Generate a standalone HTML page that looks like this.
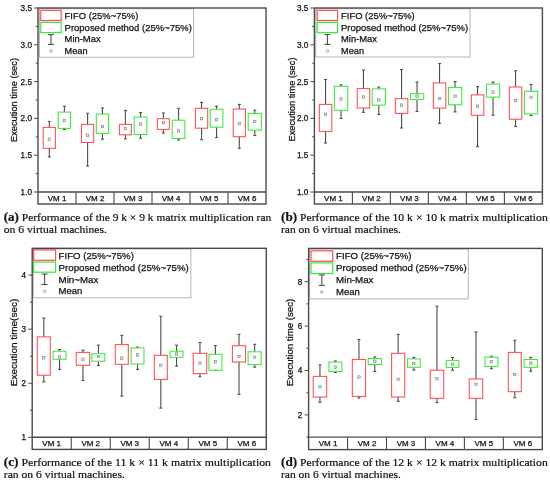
<!DOCTYPE html>
<html><head><meta charset="utf-8"><title>Execution time box plots</title>
<style>
html,body{margin:0;padding:0;background:#fff;}
body{width:550px;height:482px;overflow:hidden;}
svg{display:block;}
text{fill:#111;}
.vm,.tk,.yl,.lg{stroke:#111;stroke-width:0.25px;}
.vm{font-family:"Liberation Sans",Arial,sans-serif;font-size:8px;}
.tk{font-family:"Liberation Sans",Arial,sans-serif;font-size:8.2px;}
.yl{font-family:"Liberation Sans",Arial,sans-serif;font-size:9.2px;}
.lg{font-family:"Liberation Sans",Arial,sans-serif;font-size:9.6px;}
.cap{font-family:"Liberation Serif","Times New Roman",serif;font-size:11.2px;fill:#111;stroke:#111;stroke-width:0.2px;}
.cb{font-weight:bold;font-size:12.6px;}
</style></head>
<body>
<svg width="550" height="482" viewBox="0 0 550 482">
<rect width="550" height="482" fill="#fff"/>
<rect x="39.4" y="8.7" width="154.2" height="48.6" fill="none" stroke="#b4b4b4" stroke-width="1"/>
<rect x="38" y="8" width="228" height="196" fill="none" stroke="#4a4a4a" stroke-width="1.4"/>
<line x1="38" y1="192" x2="266" y2="192" stroke="#4a4a4a" stroke-width="1.4"/>
<line x1="76" y1="192" x2="76" y2="204" stroke="#4a4a4a" stroke-width="1.1"/>
<line x1="114" y1="192" x2="114" y2="204" stroke="#4a4a4a" stroke-width="1.1"/>
<line x1="152" y1="192" x2="152" y2="204" stroke="#4a4a4a" stroke-width="1.1"/>
<line x1="190" y1="192" x2="190" y2="204" stroke="#4a4a4a" stroke-width="1.1"/>
<line x1="228" y1="192" x2="228" y2="204" stroke="#4a4a4a" stroke-width="1.1"/>
<text x="57" y="201.2" class="vm" text-anchor="middle">VM 1</text>
<text x="95" y="201.2" class="vm" text-anchor="middle">VM 2</text>
<text x="133" y="201.2" class="vm" text-anchor="middle">VM 3</text>
<text x="171" y="201.2" class="vm" text-anchor="middle">VM 4</text>
<text x="209" y="201.2" class="vm" text-anchor="middle">VM 5</text>
<text x="247" y="201.2" class="vm" text-anchor="middle">VM 6</text>
<line x1="34" y1="192" x2="38" y2="192" stroke="#4a4a4a" stroke-width="1"/>
<text x="32" y="194.9" class="tk" text-anchor="end">1.0</text>
<line x1="34" y1="155.2" x2="38" y2="155.2" stroke="#4a4a4a" stroke-width="1"/>
<text x="32" y="158.1" class="tk" text-anchor="end">1.5</text>
<line x1="34" y1="118.4" x2="38" y2="118.4" stroke="#4a4a4a" stroke-width="1"/>
<text x="32" y="121.3" class="tk" text-anchor="end">2.0</text>
<line x1="34" y1="81.6" x2="38" y2="81.6" stroke="#4a4a4a" stroke-width="1"/>
<text x="32" y="84.5" class="tk" text-anchor="end">2.5</text>
<line x1="34" y1="44.8" x2="38" y2="44.8" stroke="#4a4a4a" stroke-width="1"/>
<text x="32" y="47.7" class="tk" text-anchor="end">3.0</text>
<line x1="34" y1="8" x2="38" y2="8" stroke="#4a4a4a" stroke-width="1"/>
<text x="32" y="10.9" class="tk" text-anchor="end">3.5</text>
<line x1="35.8" y1="173.6" x2="38" y2="173.6" stroke="#4a4a4a" stroke-width="1"/>
<line x1="35.8" y1="136.8" x2="38" y2="136.8" stroke="#4a4a4a" stroke-width="1"/>
<line x1="35.8" y1="100" x2="38" y2="100" stroke="#4a4a4a" stroke-width="1"/>
<line x1="35.8" y1="63.2" x2="38" y2="63.2" stroke="#4a4a4a" stroke-width="1"/>
<line x1="35.8" y1="26.4" x2="38" y2="26.4" stroke="#4a4a4a" stroke-width="1"/>
<text transform="translate(17.3,100) rotate(-90)" class="yl" text-anchor="middle" textLength="84" lengthAdjust="spacingAndGlyphs">Execution time (sec)</text>
<rect x="40.8" y="10.3" width="20.4" height="10.2" fill="none" stroke="#ff4d4d" stroke-width="1.2"/>
<rect x="40.8" y="22.4" width="20.4" height="10.2" fill="none" stroke="#36ec36" stroke-width="1.2"/>
<line x1="51" y1="34.6" x2="51" y2="44.4" stroke="#4d4d4d" stroke-width="1.1"/>
<line x1="48" y1="34.6" x2="54" y2="34.6" stroke="#4d4d4d" stroke-width="1.1"/>
<line x1="48" y1="44.4" x2="54" y2="44.4" stroke="#4d4d4d" stroke-width="1.1"/>
<circle cx="51" cy="50.9" r="1.3" fill="none" stroke="#8a8a8a" stroke-width="0.7"/>
<text x="64.6" y="18.9" class="lg" textLength="73.7" lengthAdjust="spacingAndGlyphs">FIFO (25%~75%)</text>
<text x="64.6" y="30.6" class="lg" textLength="127.2" lengthAdjust="spacingAndGlyphs">Proposed method (25%~75%)</text>
<text x="64.6" y="42.3" class="lg" textLength="36" lengthAdjust="spacingAndGlyphs">Min-Max</text>
<text x="64.6" y="53.9" class="lg" textLength="23" lengthAdjust="spacingAndGlyphs">Mean</text>
<line x1="49.3" y1="121.4" x2="49.3" y2="127.4" stroke="#4d4d4d" stroke-width="1.1"/>
<line x1="49.3" y1="148.3" x2="49.3" y2="157" stroke="#4d4d4d" stroke-width="1.1"/>
<line x1="47.8" y1="121.4" x2="50.8" y2="121.4" stroke="#4d4d4d" stroke-width="1.1"/>
<line x1="47.8" y1="157" x2="50.8" y2="157" stroke="#4d4d4d" stroke-width="1.1"/>
<rect x="43.2" y="127.4" width="12.2" height="20.9" fill="none" stroke="#ff4d4d" stroke-width="1.05"/>
<rect x="48.1" y="138" width="2.4" height="2.4" fill="#e6e6e6" stroke="#7a7a7a" stroke-width="0.6"/>
<line x1="64.4" y1="106.2" x2="64.4" y2="112.1" stroke="#4d4d4d" stroke-width="1.1"/>
<line x1="64.4" y1="128.4" x2="64.4" y2="129.6" stroke="#4d4d4d" stroke-width="1.1"/>
<line x1="62.9" y1="106.2" x2="65.9" y2="106.2" stroke="#4d4d4d" stroke-width="1.1"/>
<line x1="62.9" y1="129.6" x2="65.9" y2="129.6" stroke="#4d4d4d" stroke-width="1.1"/>
<rect x="58.2" y="112.1" width="12.4" height="16.3" fill="none" stroke="#36ec36" stroke-width="1.05"/>
<rect x="63.2" y="119.3" width="2.4" height="2.4" fill="#e6e6e6" stroke="#7a7a7a" stroke-width="0.6"/>
<line x1="87.6" y1="113.3" x2="87.6" y2="124.4" stroke="#4d4d4d" stroke-width="1.1"/>
<line x1="87.6" y1="142.5" x2="87.6" y2="166" stroke="#4d4d4d" stroke-width="1.1"/>
<line x1="86.1" y1="113.3" x2="89.1" y2="113.3" stroke="#4d4d4d" stroke-width="1.1"/>
<line x1="86.1" y1="166" x2="89.1" y2="166" stroke="#4d4d4d" stroke-width="1.1"/>
<rect x="81.5" y="124.4" width="12.2" height="18.1" fill="none" stroke="#ff4d4d" stroke-width="1.05"/>
<rect x="86.4" y="133.9" width="2.4" height="2.4" fill="#e6e6e6" stroke="#7a7a7a" stroke-width="0.6"/>
<line x1="102.45" y1="108" x2="102.45" y2="114.1" stroke="#4d4d4d" stroke-width="1.1"/>
<line x1="102.45" y1="133.4" x2="102.45" y2="139.2" stroke="#4d4d4d" stroke-width="1.1"/>
<line x1="100.95" y1="108" x2="103.95" y2="108" stroke="#4d4d4d" stroke-width="1.1"/>
<line x1="100.95" y1="139.2" x2="103.95" y2="139.2" stroke="#4d4d4d" stroke-width="1.1"/>
<rect x="96.3" y="114.1" width="12.3" height="19.3" fill="none" stroke="#36ec36" stroke-width="1.05"/>
<rect x="101.25" y="125.3" width="2.4" height="2.4" fill="#e6e6e6" stroke="#7a7a7a" stroke-width="0.6"/>
<line x1="125.4" y1="110.4" x2="125.4" y2="124.4" stroke="#4d4d4d" stroke-width="1.1"/>
<line x1="125.4" y1="134.8" x2="125.4" y2="138.9" stroke="#4d4d4d" stroke-width="1.1"/>
<line x1="123.9" y1="110.4" x2="126.9" y2="110.4" stroke="#4d4d4d" stroke-width="1.1"/>
<line x1="123.9" y1="138.9" x2="126.9" y2="138.9" stroke="#4d4d4d" stroke-width="1.1"/>
<rect x="119.4" y="124.4" width="12" height="10.4" fill="none" stroke="#ff4d4d" stroke-width="1.05"/>
<rect x="124.2" y="127.4" width="2.4" height="2.4" fill="#e6e6e6" stroke="#7a7a7a" stroke-width="0.6"/>
<line x1="140.55" y1="112.5" x2="140.55" y2="117.1" stroke="#4d4d4d" stroke-width="1.1"/>
<line x1="140.55" y1="134.5" x2="140.55" y2="138.2" stroke="#4d4d4d" stroke-width="1.1"/>
<line x1="139.05" y1="112.5" x2="142.05" y2="112.5" stroke="#4d4d4d" stroke-width="1.1"/>
<line x1="139.05" y1="138.2" x2="142.05" y2="138.2" stroke="#4d4d4d" stroke-width="1.1"/>
<rect x="134.2" y="117.1" width="12.7" height="17.4" fill="none" stroke="#36ec36" stroke-width="1.05"/>
<rect x="139.35" y="122.9" width="2.4" height="2.4" fill="#e6e6e6" stroke="#7a7a7a" stroke-width="0.6"/>
<line x1="163.4" y1="113" x2="163.4" y2="118.7" stroke="#4d4d4d" stroke-width="1.1"/>
<line x1="163.4" y1="129.4" x2="163.4" y2="133" stroke="#4d4d4d" stroke-width="1.1"/>
<line x1="161.9" y1="113" x2="164.9" y2="113" stroke="#4d4d4d" stroke-width="1.1"/>
<line x1="161.9" y1="133" x2="164.9" y2="133" stroke="#4d4d4d" stroke-width="1.1"/>
<rect x="157.4" y="118.7" width="12" height="10.7" fill="none" stroke="#ff4d4d" stroke-width="1.05"/>
<rect x="162.2" y="121.4" width="2.4" height="2.4" fill="#e6e6e6" stroke="#7a7a7a" stroke-width="0.6"/>
<line x1="178.55" y1="108.3" x2="178.55" y2="120.2" stroke="#4d4d4d" stroke-width="1.1"/>
<line x1="178.55" y1="138.4" x2="178.55" y2="140" stroke="#4d4d4d" stroke-width="1.1"/>
<line x1="177.05" y1="108.3" x2="180.05" y2="108.3" stroke="#4d4d4d" stroke-width="1.1"/>
<line x1="177.05" y1="140" x2="180.05" y2="140" stroke="#4d4d4d" stroke-width="1.1"/>
<rect x="172.2" y="120.2" width="12.7" height="18.2" fill="none" stroke="#36ec36" stroke-width="1.05"/>
<rect x="177.35" y="129.7" width="2.4" height="2.4" fill="#e6e6e6" stroke="#7a7a7a" stroke-width="0.6"/>
<line x1="201.55" y1="102.3" x2="201.55" y2="108.3" stroke="#4d4d4d" stroke-width="1.1"/>
<line x1="201.55" y1="128.2" x2="201.55" y2="139.7" stroke="#4d4d4d" stroke-width="1.1"/>
<line x1="200.05" y1="102.3" x2="203.05" y2="102.3" stroke="#4d4d4d" stroke-width="1.1"/>
<line x1="200.05" y1="139.7" x2="203.05" y2="139.7" stroke="#4d4d4d" stroke-width="1.1"/>
<rect x="195.4" y="108.3" width="12.3" height="19.9" fill="none" stroke="#ff4d4d" stroke-width="1.05"/>
<rect x="200.35" y="117.5" width="2.4" height="2.4" fill="#e6e6e6" stroke="#7a7a7a" stroke-width="0.6"/>
<line x1="216.55" y1="106.2" x2="216.55" y2="109.3" stroke="#4d4d4d" stroke-width="1.1"/>
<line x1="216.55" y1="127.2" x2="216.55" y2="137.6" stroke="#4d4d4d" stroke-width="1.1"/>
<line x1="215.05" y1="106.2" x2="218.05" y2="106.2" stroke="#4d4d4d" stroke-width="1.1"/>
<line x1="215.05" y1="137.6" x2="218.05" y2="137.6" stroke="#4d4d4d" stroke-width="1.1"/>
<rect x="210.2" y="109.3" width="12.7" height="17.9" fill="none" stroke="#36ec36" stroke-width="1.05"/>
<rect x="215.35" y="118.5" width="2.4" height="2.4" fill="#e6e6e6" stroke="#7a7a7a" stroke-width="0.6"/>
<line x1="239.3" y1="104.4" x2="239.3" y2="109" stroke="#4d4d4d" stroke-width="1.1"/>
<line x1="239.3" y1="136.7" x2="239.3" y2="148.3" stroke="#4d4d4d" stroke-width="1.1"/>
<line x1="237.8" y1="104.4" x2="240.8" y2="104.4" stroke="#4d4d4d" stroke-width="1.1"/>
<line x1="237.8" y1="148.3" x2="240.8" y2="148.3" stroke="#4d4d4d" stroke-width="1.1"/>
<rect x="233.2" y="109" width="12.2" height="27.7" fill="none" stroke="#ff4d4d" stroke-width="1.05"/>
<rect x="238.1" y="122.5" width="2.4" height="2.4" fill="#e6e6e6" stroke="#7a7a7a" stroke-width="0.6"/>
<line x1="254.8" y1="110.2" x2="254.8" y2="113.4" stroke="#4d4d4d" stroke-width="1.1"/>
<line x1="254.8" y1="130.1" x2="254.8" y2="135.5" stroke="#4d4d4d" stroke-width="1.1"/>
<line x1="253.3" y1="110.2" x2="256.3" y2="110.2" stroke="#4d4d4d" stroke-width="1.1"/>
<line x1="253.3" y1="135.5" x2="256.3" y2="135.5" stroke="#4d4d4d" stroke-width="1.1"/>
<rect x="248.2" y="113.4" width="13.2" height="16.7" fill="none" stroke="#36ec36" stroke-width="1.05"/>
<rect x="253.6" y="120.2" width="2.4" height="2.4" fill="#e6e6e6" stroke="#7a7a7a" stroke-width="0.6"/>
<rect x="315.8" y="8.7" width="154.2" height="48.3" fill="none" stroke="#b4b4b4" stroke-width="1"/>
<rect x="314.4" y="8" width="228" height="196" fill="none" stroke="#4a4a4a" stroke-width="1.4"/>
<line x1="314.4" y1="192" x2="542.4" y2="192" stroke="#4a4a4a" stroke-width="1.4"/>
<line x1="352.4" y1="192" x2="352.4" y2="204" stroke="#4a4a4a" stroke-width="1.1"/>
<line x1="390.4" y1="192" x2="390.4" y2="204" stroke="#4a4a4a" stroke-width="1.1"/>
<line x1="428.4" y1="192" x2="428.4" y2="204" stroke="#4a4a4a" stroke-width="1.1"/>
<line x1="466.4" y1="192" x2="466.4" y2="204" stroke="#4a4a4a" stroke-width="1.1"/>
<line x1="504.4" y1="192" x2="504.4" y2="204" stroke="#4a4a4a" stroke-width="1.1"/>
<text x="333.4" y="201.2" class="vm" text-anchor="middle">VM 1</text>
<text x="371.4" y="201.2" class="vm" text-anchor="middle">VM 2</text>
<text x="409.4" y="201.2" class="vm" text-anchor="middle">VM 3</text>
<text x="447.4" y="201.2" class="vm" text-anchor="middle">VM 4</text>
<text x="485.4" y="201.2" class="vm" text-anchor="middle">VM 5</text>
<text x="523.4" y="201.2" class="vm" text-anchor="middle">VM 6</text>
<line x1="310.4" y1="192" x2="314.4" y2="192" stroke="#4a4a4a" stroke-width="1"/>
<text x="308.4" y="194.9" class="tk" text-anchor="end">1.0</text>
<line x1="310.4" y1="155.2" x2="314.4" y2="155.2" stroke="#4a4a4a" stroke-width="1"/>
<text x="308.4" y="158.1" class="tk" text-anchor="end">1.5</text>
<line x1="310.4" y1="118.4" x2="314.4" y2="118.4" stroke="#4a4a4a" stroke-width="1"/>
<text x="308.4" y="121.3" class="tk" text-anchor="end">2.0</text>
<line x1="310.4" y1="81.6" x2="314.4" y2="81.6" stroke="#4a4a4a" stroke-width="1"/>
<text x="308.4" y="84.5" class="tk" text-anchor="end">2.5</text>
<line x1="310.4" y1="44.8" x2="314.4" y2="44.8" stroke="#4a4a4a" stroke-width="1"/>
<text x="308.4" y="47.7" class="tk" text-anchor="end">3.0</text>
<line x1="310.4" y1="8" x2="314.4" y2="8" stroke="#4a4a4a" stroke-width="1"/>
<text x="308.4" y="10.9" class="tk" text-anchor="end">3.5</text>
<line x1="312.2" y1="173.6" x2="314.4" y2="173.6" stroke="#4a4a4a" stroke-width="1"/>
<line x1="312.2" y1="136.8" x2="314.4" y2="136.8" stroke="#4a4a4a" stroke-width="1"/>
<line x1="312.2" y1="100" x2="314.4" y2="100" stroke="#4a4a4a" stroke-width="1"/>
<line x1="312.2" y1="63.2" x2="314.4" y2="63.2" stroke="#4a4a4a" stroke-width="1"/>
<line x1="312.2" y1="26.4" x2="314.4" y2="26.4" stroke="#4a4a4a" stroke-width="1"/>
<text transform="translate(294.7,99.5) rotate(-90)" class="yl" text-anchor="middle" textLength="84" lengthAdjust="spacingAndGlyphs">Execution time (sec)</text>
<rect x="317.2" y="10.3" width="20.4" height="10.2" fill="none" stroke="#ff4d4d" stroke-width="1.2"/>
<rect x="317.2" y="22.4" width="20.4" height="10.2" fill="none" stroke="#36ec36" stroke-width="1.2"/>
<line x1="327.4" y1="34.6" x2="327.4" y2="44.4" stroke="#4d4d4d" stroke-width="1.1"/>
<line x1="324.4" y1="34.6" x2="330.4" y2="34.6" stroke="#4d4d4d" stroke-width="1.1"/>
<line x1="324.4" y1="44.4" x2="330.4" y2="44.4" stroke="#4d4d4d" stroke-width="1.1"/>
<circle cx="327.4" cy="50.9" r="1.3" fill="none" stroke="#8a8a8a" stroke-width="0.7"/>
<text x="341" y="18.9" class="lg" textLength="73.7" lengthAdjust="spacingAndGlyphs">FIFO (25%~75%)</text>
<text x="341" y="30.6" class="lg" textLength="127.2" lengthAdjust="spacingAndGlyphs">Proposed method (25%~75%)</text>
<text x="341" y="42.3" class="lg" textLength="36" lengthAdjust="spacingAndGlyphs">Min-Max</text>
<text x="341" y="53.9" class="lg" textLength="23" lengthAdjust="spacingAndGlyphs">Mean</text>
<line x1="325.55" y1="79.5" x2="325.55" y2="104.4" stroke="#4d4d4d" stroke-width="1.1"/>
<line x1="325.55" y1="131.4" x2="325.55" y2="143" stroke="#4d4d4d" stroke-width="1.1"/>
<line x1="324.05" y1="79.5" x2="327.05" y2="79.5" stroke="#4d4d4d" stroke-width="1.1"/>
<line x1="324.05" y1="143" x2="327.05" y2="143" stroke="#4d4d4d" stroke-width="1.1"/>
<rect x="319.3" y="104.4" width="12.5" height="27" fill="none" stroke="#ff4d4d" stroke-width="1.05"/>
<rect x="324.35" y="113.1" width="2.4" height="2.4" fill="#e6e6e6" stroke="#7a7a7a" stroke-width="0.6"/>
<line x1="341.05" y1="84.9" x2="341.05" y2="86.3" stroke="#4d4d4d" stroke-width="1.1"/>
<line x1="341.05" y1="110.3" x2="341.05" y2="118.5" stroke="#4d4d4d" stroke-width="1.1"/>
<line x1="339.55" y1="84.9" x2="342.55" y2="84.9" stroke="#4d4d4d" stroke-width="1.1"/>
<line x1="339.55" y1="118.5" x2="342.55" y2="118.5" stroke="#4d4d4d" stroke-width="1.1"/>
<rect x="334.4" y="86.3" width="13.3" height="24" fill="none" stroke="#36ec36" stroke-width="1.05"/>
<rect x="339.85" y="97.8" width="2.4" height="2.4" fill="#e6e6e6" stroke="#7a7a7a" stroke-width="0.6"/>
<line x1="363.45" y1="70" x2="363.45" y2="88.6" stroke="#4d4d4d" stroke-width="1.1"/>
<line x1="363.45" y1="108" x2="363.45" y2="112.3" stroke="#4d4d4d" stroke-width="1.1"/>
<line x1="361.95" y1="70" x2="364.95" y2="70" stroke="#4d4d4d" stroke-width="1.1"/>
<line x1="361.95" y1="112.3" x2="364.95" y2="112.3" stroke="#4d4d4d" stroke-width="1.1"/>
<rect x="357.2" y="88.6" width="12.5" height="19.4" fill="none" stroke="#ff4d4d" stroke-width="1.05"/>
<rect x="362.25" y="95.8" width="2.4" height="2.4" fill="#e6e6e6" stroke="#7a7a7a" stroke-width="0.6"/>
<line x1="378.8" y1="87.1" x2="378.8" y2="88.9" stroke="#4d4d4d" stroke-width="1.1"/>
<line x1="378.8" y1="105.1" x2="378.8" y2="114.5" stroke="#4d4d4d" stroke-width="1.1"/>
<line x1="377.3" y1="87.1" x2="380.3" y2="87.1" stroke="#4d4d4d" stroke-width="1.1"/>
<line x1="377.3" y1="114.5" x2="380.3" y2="114.5" stroke="#4d4d4d" stroke-width="1.1"/>
<rect x="372.2" y="88.9" width="13.2" height="16.2" fill="none" stroke="#36ec36" stroke-width="1.05"/>
<rect x="377.6" y="98.7" width="2.4" height="2.4" fill="#e6e6e6" stroke="#7a7a7a" stroke-width="0.6"/>
<line x1="401.55" y1="69.5" x2="401.55" y2="98.7" stroke="#4d4d4d" stroke-width="1.1"/>
<line x1="401.55" y1="113.4" x2="401.55" y2="128" stroke="#4d4d4d" stroke-width="1.1"/>
<line x1="400.05" y1="69.5" x2="403.05" y2="69.5" stroke="#4d4d4d" stroke-width="1.1"/>
<line x1="400.05" y1="128" x2="403.05" y2="128" stroke="#4d4d4d" stroke-width="1.1"/>
<rect x="395.3" y="98.7" width="12.5" height="14.7" fill="none" stroke="#ff4d4d" stroke-width="1.05"/>
<rect x="400.35" y="103.9" width="2.4" height="2.4" fill="#e6e6e6" stroke="#7a7a7a" stroke-width="0.6"/>
<line x1="417.05" y1="82.1" x2="417.05" y2="93.7" stroke="#4d4d4d" stroke-width="1.1"/>
<line x1="417.05" y1="99.5" x2="417.05" y2="111.4" stroke="#4d4d4d" stroke-width="1.1"/>
<line x1="415.55" y1="82.1" x2="418.55" y2="82.1" stroke="#4d4d4d" stroke-width="1.1"/>
<line x1="415.55" y1="111.4" x2="418.55" y2="111.4" stroke="#4d4d4d" stroke-width="1.1"/>
<rect x="410.4" y="93.7" width="13.3" height="5.8" fill="none" stroke="#36ec36" stroke-width="1.05"/>
<rect x="415.85" y="95" width="2.4" height="2.4" fill="#e6e6e6" stroke="#7a7a7a" stroke-width="0.6"/>
<line x1="439.55" y1="63.6" x2="439.55" y2="82.9" stroke="#4d4d4d" stroke-width="1.1"/>
<line x1="439.55" y1="108.1" x2="439.55" y2="123.4" stroke="#4d4d4d" stroke-width="1.1"/>
<line x1="438.05" y1="63.6" x2="441.05" y2="63.6" stroke="#4d4d4d" stroke-width="1.1"/>
<line x1="438.05" y1="123.4" x2="441.05" y2="123.4" stroke="#4d4d4d" stroke-width="1.1"/>
<rect x="433.3" y="82.9" width="12.5" height="25.2" fill="none" stroke="#ff4d4d" stroke-width="1.05"/>
<rect x="438.35" y="97.3" width="2.4" height="2.4" fill="#e6e6e6" stroke="#7a7a7a" stroke-width="0.6"/>
<line x1="455.05" y1="81.6" x2="455.05" y2="87.4" stroke="#4d4d4d" stroke-width="1.1"/>
<line x1="455.05" y1="104.8" x2="455.05" y2="111.9" stroke="#4d4d4d" stroke-width="1.1"/>
<line x1="453.55" y1="81.6" x2="456.55" y2="81.6" stroke="#4d4d4d" stroke-width="1.1"/>
<line x1="453.55" y1="111.9" x2="456.55" y2="111.9" stroke="#4d4d4d" stroke-width="1.1"/>
<rect x="448.4" y="87.4" width="13.3" height="17.4" fill="none" stroke="#36ec36" stroke-width="1.05"/>
<rect x="453.85" y="95" width="2.4" height="2.4" fill="#e6e6e6" stroke="#7a7a7a" stroke-width="0.6"/>
<line x1="477.55" y1="86.6" x2="477.55" y2="94.9" stroke="#4d4d4d" stroke-width="1.1"/>
<line x1="477.55" y1="115.3" x2="477.55" y2="146.7" stroke="#4d4d4d" stroke-width="1.1"/>
<line x1="476.05" y1="86.6" x2="479.05" y2="86.6" stroke="#4d4d4d" stroke-width="1.1"/>
<line x1="476.05" y1="146.7" x2="479.05" y2="146.7" stroke="#4d4d4d" stroke-width="1.1"/>
<rect x="471.3" y="94.9" width="12.5" height="20.4" fill="none" stroke="#ff4d4d" stroke-width="1.05"/>
<rect x="476.35" y="105" width="2.4" height="2.4" fill="#e6e6e6" stroke="#7a7a7a" stroke-width="0.6"/>
<line x1="493.05" y1="82.1" x2="493.05" y2="84.1" stroke="#4d4d4d" stroke-width="1.1"/>
<line x1="493.05" y1="97.1" x2="493.05" y2="115.2" stroke="#4d4d4d" stroke-width="1.1"/>
<line x1="491.55" y1="82.1" x2="494.55" y2="82.1" stroke="#4d4d4d" stroke-width="1.1"/>
<line x1="491.55" y1="115.2" x2="494.55" y2="115.2" stroke="#4d4d4d" stroke-width="1.1"/>
<rect x="486.4" y="84.1" width="13.3" height="13" fill="none" stroke="#36ec36" stroke-width="1.05"/>
<rect x="491.85" y="90.9" width="2.4" height="2.4" fill="#e6e6e6" stroke="#7a7a7a" stroke-width="0.6"/>
<line x1="515.55" y1="70.8" x2="515.55" y2="87" stroke="#4d4d4d" stroke-width="1.1"/>
<line x1="515.55" y1="119.2" x2="515.55" y2="126.4" stroke="#4d4d4d" stroke-width="1.1"/>
<line x1="514.05" y1="70.8" x2="517.05" y2="70.8" stroke="#4d4d4d" stroke-width="1.1"/>
<line x1="514.05" y1="126.4" x2="517.05" y2="126.4" stroke="#4d4d4d" stroke-width="1.1"/>
<rect x="509.3" y="87" width="12.5" height="32.2" fill="none" stroke="#ff4d4d" stroke-width="1.05"/>
<rect x="514.35" y="99.5" width="2.4" height="2.4" fill="#e6e6e6" stroke="#7a7a7a" stroke-width="0.6"/>
<line x1="531.05" y1="84.4" x2="531.05" y2="91.2" stroke="#4d4d4d" stroke-width="1.1"/>
<line x1="531.05" y1="113.9" x2="531.05" y2="115.6" stroke="#4d4d4d" stroke-width="1.1"/>
<line x1="529.55" y1="84.4" x2="532.55" y2="84.4" stroke="#4d4d4d" stroke-width="1.1"/>
<line x1="529.55" y1="115.6" x2="532.55" y2="115.6" stroke="#4d4d4d" stroke-width="1.1"/>
<rect x="524.4" y="91.2" width="13.3" height="22.7" fill="none" stroke="#36ec36" stroke-width="1.05"/>
<rect x="529.85" y="96.1" width="2.4" height="2.4" fill="#e6e6e6" stroke="#7a7a7a" stroke-width="0.6"/>
<rect x="33.2" y="249" width="157.7" height="48.8" fill="none" stroke="#b4b4b4" stroke-width="1"/>
<rect x="32.2" y="248.3" width="234.1" height="201.1" fill="none" stroke="#4a4a4a" stroke-width="1.4"/>
<line x1="32.2" y1="437.3" x2="266.3" y2="437.3" stroke="#4a4a4a" stroke-width="1.4"/>
<line x1="71.22" y1="437.3" x2="71.22" y2="449.4" stroke="#4a4a4a" stroke-width="1.1"/>
<line x1="110.23" y1="437.3" x2="110.23" y2="449.4" stroke="#4a4a4a" stroke-width="1.1"/>
<line x1="149.25" y1="437.3" x2="149.25" y2="449.4" stroke="#4a4a4a" stroke-width="1.1"/>
<line x1="188.27" y1="437.3" x2="188.27" y2="449.4" stroke="#4a4a4a" stroke-width="1.1"/>
<line x1="227.28" y1="437.3" x2="227.28" y2="449.4" stroke="#4a4a4a" stroke-width="1.1"/>
<text x="51.71" y="446.4" class="vm" text-anchor="middle">VM 1</text>
<text x="90.73" y="446.4" class="vm" text-anchor="middle">VM 2</text>
<text x="129.74" y="446.4" class="vm" text-anchor="middle">VM 3</text>
<text x="168.76" y="446.4" class="vm" text-anchor="middle">VM 4</text>
<text x="207.78" y="446.4" class="vm" text-anchor="middle">VM 5</text>
<text x="246.79" y="446.4" class="vm" text-anchor="middle">VM 6</text>
<line x1="28.2" y1="437.3" x2="32.2" y2="437.3" stroke="#4a4a4a" stroke-width="1"/>
<text x="26" y="440.2" class="tk" text-anchor="end">1</text>
<line x1="28.2" y1="383.23" x2="32.2" y2="383.23" stroke="#4a4a4a" stroke-width="1"/>
<text x="26" y="386.13" class="tk" text-anchor="end">2</text>
<line x1="28.2" y1="329.16" x2="32.2" y2="329.16" stroke="#4a4a4a" stroke-width="1"/>
<text x="26" y="332.06" class="tk" text-anchor="end">3</text>
<line x1="28.2" y1="275.09" x2="32.2" y2="275.09" stroke="#4a4a4a" stroke-width="1"/>
<text x="26" y="277.99" class="tk" text-anchor="end">4</text>
<line x1="30" y1="410.26" x2="32.2" y2="410.26" stroke="#4a4a4a" stroke-width="1"/>
<line x1="30" y1="356.19" x2="32.2" y2="356.19" stroke="#4a4a4a" stroke-width="1"/>
<line x1="30" y1="302.12" x2="32.2" y2="302.12" stroke="#4a4a4a" stroke-width="1"/>
<text transform="translate(17.1,342.5) rotate(-90)" class="yl" text-anchor="middle" textLength="87.5" lengthAdjust="spacingAndGlyphs">Execution time(sec)</text>
<rect x="33.6" y="249.9" width="22" height="10.4" fill="none" stroke="#ff4d4d" stroke-width="1.2"/>
<rect x="33.6" y="262.1" width="22" height="10.1" fill="none" stroke="#36ec36" stroke-width="1.2"/>
<line x1="44.6" y1="274.1" x2="44.6" y2="284.5" stroke="#4d4d4d" stroke-width="1.1"/>
<line x1="41.6" y1="274.1" x2="47.6" y2="274.1" stroke="#4d4d4d" stroke-width="1.1"/>
<line x1="41.6" y1="284.5" x2="47.6" y2="284.5" stroke="#4d4d4d" stroke-width="1.1"/>
<circle cx="44.6" cy="291.3" r="1.3" fill="none" stroke="#8a8a8a" stroke-width="0.7"/>
<text x="58.6" y="259" class="lg" textLength="75.3" lengthAdjust="spacingAndGlyphs">FIFO (25%~75%)</text>
<text x="58.6" y="270.9" class="lg" textLength="130.2" lengthAdjust="spacingAndGlyphs">Proposed method (25%~75%)</text>
<text x="58.6" y="282.5" class="lg" textLength="39.7" lengthAdjust="spacingAndGlyphs">Min~Max</text>
<text x="58.6" y="294.3" class="lg" textLength="23.7" lengthAdjust="spacingAndGlyphs">Mean</text>
<line x1="43.8" y1="318" x2="43.8" y2="336.9" stroke="#4d4d4d" stroke-width="1.1"/>
<line x1="43.8" y1="375.2" x2="43.8" y2="381.9" stroke="#4d4d4d" stroke-width="1.1"/>
<line x1="42.3" y1="318" x2="45.3" y2="318" stroke="#4d4d4d" stroke-width="1.1"/>
<line x1="42.3" y1="381.9" x2="45.3" y2="381.9" stroke="#4d4d4d" stroke-width="1.1"/>
<rect x="37.3" y="336.9" width="13" height="38.3" fill="none" stroke="#ff4d4d" stroke-width="1.05"/>
<rect x="42.6" y="356.6" width="2.4" height="2.4" fill="#e6e6e6" stroke="#7a7a7a" stroke-width="0.6"/>
<line x1="59.55" y1="349.5" x2="59.55" y2="351.2" stroke="#4d4d4d" stroke-width="1.1"/>
<line x1="59.55" y1="359.3" x2="59.55" y2="369.4" stroke="#4d4d4d" stroke-width="1.1"/>
<line x1="58.05" y1="349.5" x2="61.05" y2="349.5" stroke="#4d4d4d" stroke-width="1.1"/>
<line x1="58.05" y1="369.4" x2="61.05" y2="369.4" stroke="#4d4d4d" stroke-width="1.1"/>
<rect x="53.1" y="351.2" width="12.9" height="8.1" fill="none" stroke="#36ec36" stroke-width="1.05"/>
<rect x="58.35" y="355.8" width="2.4" height="2.4" fill="#e6e6e6" stroke="#7a7a7a" stroke-width="0.6"/>
<line x1="82.95" y1="350.2" x2="82.95" y2="352.4" stroke="#4d4d4d" stroke-width="1.1"/>
<line x1="82.95" y1="365.3" x2="82.95" y2="380.5" stroke="#4d4d4d" stroke-width="1.1"/>
<line x1="81.45" y1="350.2" x2="84.45" y2="350.2" stroke="#4d4d4d" stroke-width="1.1"/>
<line x1="81.45" y1="380.5" x2="84.45" y2="380.5" stroke="#4d4d4d" stroke-width="1.1"/>
<rect x="76.2" y="352.4" width="13.5" height="12.9" fill="none" stroke="#ff4d4d" stroke-width="1.05"/>
<rect x="81.75" y="358.1" width="2.4" height="2.4" fill="#e6e6e6" stroke="#7a7a7a" stroke-width="0.6"/>
<line x1="98.4" y1="345.2" x2="98.4" y2="353.7" stroke="#4d4d4d" stroke-width="1.1"/>
<line x1="98.4" y1="361.2" x2="98.4" y2="365.5" stroke="#4d4d4d" stroke-width="1.1"/>
<line x1="96.9" y1="345.2" x2="99.9" y2="345.2" stroke="#4d4d4d" stroke-width="1.1"/>
<line x1="96.9" y1="365.5" x2="99.9" y2="365.5" stroke="#4d4d4d" stroke-width="1.1"/>
<rect x="91.9" y="353.7" width="13" height="7.5" fill="none" stroke="#36ec36" stroke-width="1.05"/>
<rect x="97.2" y="355.3" width="2.4" height="2.4" fill="#e6e6e6" stroke="#7a7a7a" stroke-width="0.6"/>
<line x1="121.8" y1="335.3" x2="121.8" y2="344.6" stroke="#4d4d4d" stroke-width="1.1"/>
<line x1="121.8" y1="364.3" x2="121.8" y2="396" stroke="#4d4d4d" stroke-width="1.1"/>
<line x1="120.3" y1="335.3" x2="123.3" y2="335.3" stroke="#4d4d4d" stroke-width="1.1"/>
<line x1="120.3" y1="396" x2="123.3" y2="396" stroke="#4d4d4d" stroke-width="1.1"/>
<rect x="115.3" y="344.6" width="13" height="19.7" fill="none" stroke="#ff4d4d" stroke-width="1.05"/>
<rect x="120.6" y="357" width="2.4" height="2.4" fill="#e6e6e6" stroke="#7a7a7a" stroke-width="0.6"/>
<line x1="137.55" y1="347.1" x2="137.55" y2="347.9" stroke="#4d4d4d" stroke-width="1.1"/>
<line x1="137.55" y1="364" x2="137.55" y2="369.5" stroke="#4d4d4d" stroke-width="1.1"/>
<line x1="136.05" y1="347.1" x2="139.05" y2="347.1" stroke="#4d4d4d" stroke-width="1.1"/>
<line x1="136.05" y1="369.5" x2="139.05" y2="369.5" stroke="#4d4d4d" stroke-width="1.1"/>
<rect x="131.1" y="347.9" width="12.9" height="16.1" fill="none" stroke="#36ec36" stroke-width="1.05"/>
<rect x="136.35" y="353.7" width="2.4" height="2.4" fill="#e6e6e6" stroke="#7a7a7a" stroke-width="0.6"/>
<line x1="160.8" y1="316.3" x2="160.8" y2="355.3" stroke="#4d4d4d" stroke-width="1.1"/>
<line x1="160.8" y1="379.4" x2="160.8" y2="408.1" stroke="#4d4d4d" stroke-width="1.1"/>
<line x1="159.3" y1="316.3" x2="162.3" y2="316.3" stroke="#4d4d4d" stroke-width="1.1"/>
<line x1="159.3" y1="408.1" x2="162.3" y2="408.1" stroke="#4d4d4d" stroke-width="1.1"/>
<rect x="154.3" y="355.3" width="13" height="24.1" fill="none" stroke="#ff4d4d" stroke-width="1.05"/>
<rect x="159.6" y="364.1" width="2.4" height="2.4" fill="#e6e6e6" stroke="#7a7a7a" stroke-width="0.6"/>
<line x1="176.55" y1="345.2" x2="176.55" y2="351.2" stroke="#4d4d4d" stroke-width="1.1"/>
<line x1="176.55" y1="357.3" x2="176.55" y2="366.1" stroke="#4d4d4d" stroke-width="1.1"/>
<line x1="175.05" y1="345.2" x2="178.05" y2="345.2" stroke="#4d4d4d" stroke-width="1.1"/>
<line x1="175.05" y1="366.1" x2="178.05" y2="366.1" stroke="#4d4d4d" stroke-width="1.1"/>
<rect x="170.1" y="351.2" width="12.9" height="6.1" fill="none" stroke="#36ec36" stroke-width="1.05"/>
<rect x="175.35" y="352.8" width="2.4" height="2.4" fill="#e6e6e6" stroke="#7a7a7a" stroke-width="0.6"/>
<line x1="199.95" y1="342.5" x2="199.95" y2="353.3" stroke="#4d4d4d" stroke-width="1.1"/>
<line x1="199.95" y1="373.6" x2="199.95" y2="376.7" stroke="#4d4d4d" stroke-width="1.1"/>
<line x1="198.45" y1="342.5" x2="201.45" y2="342.5" stroke="#4d4d4d" stroke-width="1.1"/>
<line x1="198.45" y1="376.7" x2="201.45" y2="376.7" stroke="#4d4d4d" stroke-width="1.1"/>
<rect x="193.2" y="353.3" width="13.5" height="20.3" fill="none" stroke="#ff4d4d" stroke-width="1.05"/>
<rect x="198.75" y="361.8" width="2.4" height="2.4" fill="#e6e6e6" stroke="#7a7a7a" stroke-width="0.6"/>
<line x1="215.4" y1="345.6" x2="215.4" y2="354.3" stroke="#4d4d4d" stroke-width="1.1"/>
<line x1="215.4" y1="370.2" x2="215.4" y2="370.5" stroke="#4d4d4d" stroke-width="1.1"/>
<line x1="213.9" y1="345.6" x2="216.9" y2="345.6" stroke="#4d4d4d" stroke-width="1.1"/>
<line x1="213.9" y1="370.5" x2="216.9" y2="370.5" stroke="#4d4d4d" stroke-width="1.1"/>
<rect x="208.9" y="354.3" width="13" height="15.9" fill="none" stroke="#36ec36" stroke-width="1.05"/>
<rect x="214.2" y="360.6" width="2.4" height="2.4" fill="#e6e6e6" stroke="#7a7a7a" stroke-width="0.6"/>
<line x1="239" y1="334.4" x2="239" y2="345.7" stroke="#4d4d4d" stroke-width="1.1"/>
<line x1="239" y1="362" x2="239" y2="394.3" stroke="#4d4d4d" stroke-width="1.1"/>
<line x1="237.5" y1="334.4" x2="240.5" y2="334.4" stroke="#4d4d4d" stroke-width="1.1"/>
<line x1="237.5" y1="394.3" x2="240.5" y2="394.3" stroke="#4d4d4d" stroke-width="1.1"/>
<rect x="232.4" y="345.7" width="13.2" height="16.3" fill="none" stroke="#ff4d4d" stroke-width="1.05"/>
<rect x="237.8" y="355.3" width="2.4" height="2.4" fill="#e6e6e6" stroke="#7a7a7a" stroke-width="0.6"/>
<line x1="254.65" y1="344.3" x2="254.65" y2="351.8" stroke="#4d4d4d" stroke-width="1.1"/>
<line x1="254.65" y1="364.6" x2="254.65" y2="367.1" stroke="#4d4d4d" stroke-width="1.1"/>
<line x1="253.15" y1="344.3" x2="256.15" y2="344.3" stroke="#4d4d4d" stroke-width="1.1"/>
<line x1="253.15" y1="367.1" x2="256.15" y2="367.1" stroke="#4d4d4d" stroke-width="1.1"/>
<rect x="248.1" y="351.8" width="13.1" height="12.8" fill="none" stroke="#36ec36" stroke-width="1.05"/>
<rect x="253.45" y="356.1" width="2.4" height="2.4" fill="#e6e6e6" stroke="#7a7a7a" stroke-width="0.6"/>
<rect x="309.6" y="249" width="158.7" height="49.9" fill="none" stroke="#b4b4b4" stroke-width="1"/>
<rect x="308.6" y="248.4" width="233.7" height="201.2" fill="none" stroke="#4a4a4a" stroke-width="1.4"/>
<line x1="308.6" y1="437.1" x2="542.3" y2="437.1" stroke="#4a4a4a" stroke-width="1.4"/>
<line x1="347.55" y1="437.1" x2="347.55" y2="449.6" stroke="#4a4a4a" stroke-width="1.1"/>
<line x1="386.5" y1="437.1" x2="386.5" y2="449.6" stroke="#4a4a4a" stroke-width="1.1"/>
<line x1="425.45" y1="437.1" x2="425.45" y2="449.6" stroke="#4a4a4a" stroke-width="1.1"/>
<line x1="464.4" y1="437.1" x2="464.4" y2="449.6" stroke="#4a4a4a" stroke-width="1.1"/>
<line x1="503.35" y1="437.1" x2="503.35" y2="449.6" stroke="#4a4a4a" stroke-width="1.1"/>
<text x="328.08" y="446.4" class="vm" text-anchor="middle">VM 1</text>
<text x="367.02" y="446.4" class="vm" text-anchor="middle">VM 2</text>
<text x="405.98" y="446.4" class="vm" text-anchor="middle">VM 3</text>
<text x="444.92" y="446.4" class="vm" text-anchor="middle">VM 4</text>
<text x="483.88" y="446.4" class="vm" text-anchor="middle">VM 5</text>
<text x="522.82" y="446.4" class="vm" text-anchor="middle">VM 6</text>
<line x1="304.6" y1="414.89" x2="308.6" y2="414.89" stroke="#4a4a4a" stroke-width="1"/>
<text x="302.4" y="417.79" class="tk" text-anchor="end">2</text>
<line x1="304.6" y1="370.47" x2="308.6" y2="370.47" stroke="#4a4a4a" stroke-width="1"/>
<text x="302.4" y="373.37" class="tk" text-anchor="end">4</text>
<line x1="304.6" y1="326.05" x2="308.6" y2="326.05" stroke="#4a4a4a" stroke-width="1"/>
<text x="302.4" y="328.95" class="tk" text-anchor="end">6</text>
<line x1="304.6" y1="281.63" x2="308.6" y2="281.63" stroke="#4a4a4a" stroke-width="1"/>
<text x="302.4" y="284.53" class="tk" text-anchor="end">8</text>
<line x1="306.4" y1="437.1" x2="308.6" y2="437.1" stroke="#4a4a4a" stroke-width="1"/>
<line x1="306.4" y1="392.68" x2="308.6" y2="392.68" stroke="#4a4a4a" stroke-width="1"/>
<line x1="306.4" y1="348.26" x2="308.6" y2="348.26" stroke="#4a4a4a" stroke-width="1"/>
<line x1="306.4" y1="303.84" x2="308.6" y2="303.84" stroke="#4a4a4a" stroke-width="1"/>
<line x1="306.4" y1="259.42" x2="308.6" y2="259.42" stroke="#4a4a4a" stroke-width="1"/>
<text transform="translate(293.3,342.5) rotate(-90)" class="yl" text-anchor="middle" textLength="87.5" lengthAdjust="spacingAndGlyphs">Execution time (sec)</text>
<rect x="311" y="250.8" width="21.7" height="10.5" fill="none" stroke="#ff4d4d" stroke-width="1.2"/>
<rect x="311" y="262.9" width="21.7" height="10.7" fill="none" stroke="#36ec36" stroke-width="1.2"/>
<line x1="321.85" y1="274.9" x2="321.85" y2="285.4" stroke="#4d4d4d" stroke-width="1.1"/>
<line x1="318.85" y1="274.9" x2="324.85" y2="274.9" stroke="#4d4d4d" stroke-width="1.1"/>
<line x1="318.85" y1="285.4" x2="324.85" y2="285.4" stroke="#4d4d4d" stroke-width="1.1"/>
<circle cx="321.85" cy="292" r="1.3" fill="none" stroke="#8a8a8a" stroke-width="0.7"/>
<text x="336.1" y="259.2" class="lg" textLength="75.5" lengthAdjust="spacingAndGlyphs">FIFO (25%~75%)</text>
<text x="336.1" y="271.1" class="lg" textLength="130.6" lengthAdjust="spacingAndGlyphs">Proposed method (25%~75%)</text>
<text x="336.1" y="282.7" class="lg" textLength="37.4" lengthAdjust="spacingAndGlyphs">Min-Max</text>
<text x="336.1" y="294.5" class="lg" textLength="23.8" lengthAdjust="spacingAndGlyphs">Mean</text>
<line x1="319.95" y1="365" x2="319.95" y2="376.4" stroke="#4d4d4d" stroke-width="1.1"/>
<line x1="319.95" y1="397" x2="319.95" y2="402.3" stroke="#4d4d4d" stroke-width="1.1"/>
<line x1="318.45" y1="365" x2="321.45" y2="365" stroke="#4d4d4d" stroke-width="1.1"/>
<line x1="318.45" y1="402.3" x2="321.45" y2="402.3" stroke="#4d4d4d" stroke-width="1.1"/>
<rect x="313.2" y="376.4" width="13.5" height="20.6" fill="none" stroke="#ff4d4d" stroke-width="1.05"/>
<rect x="318.75" y="385.6" width="2.4" height="2.4" fill="#e6e6e6" stroke="#7a7a7a" stroke-width="0.6"/>
<line x1="335.4" y1="361" x2="335.4" y2="362.1" stroke="#4d4d4d" stroke-width="1.1"/>
<line x1="335.4" y1="371.4" x2="335.4" y2="372.4" stroke="#4d4d4d" stroke-width="1.1"/>
<line x1="333.9" y1="361" x2="336.9" y2="361" stroke="#4d4d4d" stroke-width="1.1"/>
<line x1="333.9" y1="372.4" x2="336.9" y2="372.4" stroke="#4d4d4d" stroke-width="1.1"/>
<rect x="328.9" y="362.1" width="13" height="9.3" fill="none" stroke="#36ec36" stroke-width="1.05"/>
<rect x="334.2" y="365.9" width="2.4" height="2.4" fill="#e6e6e6" stroke="#7a7a7a" stroke-width="0.6"/>
<line x1="358.95" y1="339.5" x2="358.95" y2="359.4" stroke="#4d4d4d" stroke-width="1.1"/>
<line x1="358.95" y1="396.4" x2="358.95" y2="398" stroke="#4d4d4d" stroke-width="1.1"/>
<line x1="357.45" y1="339.5" x2="360.45" y2="339.5" stroke="#4d4d4d" stroke-width="1.1"/>
<line x1="357.45" y1="398" x2="360.45" y2="398" stroke="#4d4d4d" stroke-width="1.1"/>
<rect x="352.3" y="359.4" width="13.3" height="37" fill="none" stroke="#ff4d4d" stroke-width="1.05"/>
<rect x="357.75" y="375.8" width="2.4" height="2.4" fill="#e6e6e6" stroke="#7a7a7a" stroke-width="0.6"/>
<line x1="374.8" y1="356.9" x2="374.8" y2="358.5" stroke="#4d4d4d" stroke-width="1.1"/>
<line x1="374.8" y1="364.5" x2="374.8" y2="371.5" stroke="#4d4d4d" stroke-width="1.1"/>
<line x1="373.3" y1="356.9" x2="376.3" y2="356.9" stroke="#4d4d4d" stroke-width="1.1"/>
<line x1="373.3" y1="371.5" x2="376.3" y2="371.5" stroke="#4d4d4d" stroke-width="1.1"/>
<rect x="368.2" y="358.5" width="13.2" height="6" fill="none" stroke="#36ec36" stroke-width="1.05"/>
<rect x="373.6" y="360" width="2.4" height="2.4" fill="#e6e6e6" stroke="#7a7a7a" stroke-width="0.6"/>
<line x1="398.15" y1="334.4" x2="398.15" y2="353.3" stroke="#4d4d4d" stroke-width="1.1"/>
<line x1="398.15" y1="397" x2="398.15" y2="401.3" stroke="#4d4d4d" stroke-width="1.1"/>
<line x1="396.65" y1="334.4" x2="399.65" y2="334.4" stroke="#4d4d4d" stroke-width="1.1"/>
<line x1="396.65" y1="401.3" x2="399.65" y2="401.3" stroke="#4d4d4d" stroke-width="1.1"/>
<rect x="391.6" y="353.3" width="13.1" height="43.7" fill="none" stroke="#ff4d4d" stroke-width="1.05"/>
<rect x="396.95" y="378.1" width="2.4" height="2.4" fill="#e6e6e6" stroke="#7a7a7a" stroke-width="0.6"/>
<line x1="413.85" y1="357.4" x2="413.85" y2="358.9" stroke="#4d4d4d" stroke-width="1.1"/>
<line x1="413.85" y1="367.3" x2="413.85" y2="370.1" stroke="#4d4d4d" stroke-width="1.1"/>
<line x1="412.35" y1="357.4" x2="415.35" y2="357.4" stroke="#4d4d4d" stroke-width="1.1"/>
<line x1="412.35" y1="370.1" x2="415.35" y2="370.1" stroke="#4d4d4d" stroke-width="1.1"/>
<rect x="407.5" y="358.9" width="12.7" height="8.4" fill="none" stroke="#36ec36" stroke-width="1.05"/>
<rect x="412.65" y="362.2" width="2.4" height="2.4" fill="#e6e6e6" stroke="#7a7a7a" stroke-width="0.6"/>
<line x1="436.95" y1="306.2" x2="436.95" y2="370.2" stroke="#4d4d4d" stroke-width="1.1"/>
<line x1="436.95" y1="398.3" x2="436.95" y2="402.6" stroke="#4d4d4d" stroke-width="1.1"/>
<line x1="435.45" y1="306.2" x2="438.45" y2="306.2" stroke="#4d4d4d" stroke-width="1.1"/>
<line x1="435.45" y1="402.6" x2="438.45" y2="402.6" stroke="#4d4d4d" stroke-width="1.1"/>
<rect x="430.2" y="370.2" width="13.5" height="28.1" fill="none" stroke="#ff4d4d" stroke-width="1.05"/>
<rect x="435.75" y="377.5" width="2.4" height="2.4" fill="#e6e6e6" stroke="#7a7a7a" stroke-width="0.6"/>
<line x1="452.55" y1="357.5" x2="452.55" y2="360.6" stroke="#4d4d4d" stroke-width="1.1"/>
<line x1="452.55" y1="367.4" x2="452.55" y2="370.2" stroke="#4d4d4d" stroke-width="1.1"/>
<line x1="451.05" y1="357.5" x2="454.05" y2="357.5" stroke="#4d4d4d" stroke-width="1.1"/>
<line x1="451.05" y1="370.2" x2="454.05" y2="370.2" stroke="#4d4d4d" stroke-width="1.1"/>
<rect x="446.2" y="360.6" width="12.7" height="6.8" fill="none" stroke="#36ec36" stroke-width="1.05"/>
<rect x="451.35" y="363.1" width="2.4" height="2.4" fill="#e6e6e6" stroke="#7a7a7a" stroke-width="0.6"/>
<line x1="475.95" y1="331.9" x2="475.95" y2="378.9" stroke="#4d4d4d" stroke-width="1.1"/>
<line x1="475.95" y1="398.3" x2="475.95" y2="419.4" stroke="#4d4d4d" stroke-width="1.1"/>
<line x1="474.45" y1="331.9" x2="477.45" y2="331.9" stroke="#4d4d4d" stroke-width="1.1"/>
<line x1="474.45" y1="419.4" x2="477.45" y2="419.4" stroke="#4d4d4d" stroke-width="1.1"/>
<rect x="469.2" y="378.9" width="13.5" height="19.4" fill="none" stroke="#ff4d4d" stroke-width="1.05"/>
<rect x="474.75" y="383.1" width="2.4" height="2.4" fill="#e6e6e6" stroke="#7a7a7a" stroke-width="0.6"/>
<line x1="491.4" y1="356.2" x2="491.4" y2="357.2" stroke="#4d4d4d" stroke-width="1.1"/>
<line x1="491.4" y1="366.4" x2="491.4" y2="368.7" stroke="#4d4d4d" stroke-width="1.1"/>
<line x1="489.9" y1="356.2" x2="492.9" y2="356.2" stroke="#4d4d4d" stroke-width="1.1"/>
<line x1="489.9" y1="368.7" x2="492.9" y2="368.7" stroke="#4d4d4d" stroke-width="1.1"/>
<rect x="484.9" y="357.2" width="13" height="9.2" fill="none" stroke="#36ec36" stroke-width="1.05"/>
<rect x="490.2" y="360.6" width="2.4" height="2.4" fill="#e6e6e6" stroke="#7a7a7a" stroke-width="0.6"/>
<line x1="514.8" y1="340.3" x2="514.8" y2="352.4" stroke="#4d4d4d" stroke-width="1.1"/>
<line x1="514.8" y1="391.7" x2="514.8" y2="397.7" stroke="#4d4d4d" stroke-width="1.1"/>
<line x1="513.3" y1="340.3" x2="516.3" y2="340.3" stroke="#4d4d4d" stroke-width="1.1"/>
<line x1="513.3" y1="397.7" x2="516.3" y2="397.7" stroke="#4d4d4d" stroke-width="1.1"/>
<rect x="508.3" y="352.4" width="13" height="39.3" fill="none" stroke="#ff4d4d" stroke-width="1.05"/>
<rect x="513.6" y="373.3" width="2.4" height="2.4" fill="#e6e6e6" stroke="#7a7a7a" stroke-width="0.6"/>
<line x1="530.75" y1="357.4" x2="530.75" y2="359.5" stroke="#4d4d4d" stroke-width="1.1"/>
<line x1="530.75" y1="367.3" x2="530.75" y2="371.2" stroke="#4d4d4d" stroke-width="1.1"/>
<line x1="529.25" y1="357.4" x2="532.25" y2="357.4" stroke="#4d4d4d" stroke-width="1.1"/>
<line x1="529.25" y1="371.2" x2="532.25" y2="371.2" stroke="#4d4d4d" stroke-width="1.1"/>
<rect x="524.1" y="359.5" width="13.3" height="7.8" fill="none" stroke="#36ec36" stroke-width="1.05"/>
<rect x="529.55" y="362" width="2.4" height="2.4" fill="#e6e6e6" stroke="#7a7a7a" stroke-width="0.6"/>
<text x="3.8" y="220.7" class="cap" textLength="267.5" lengthAdjust="spacingAndGlyphs"><tspan class="cb">(a)</tspan> Performance of the 9 k × 9 k matrix multiplication ran</text>
<text x="3.8" y="233" class="cap" textLength="103" lengthAdjust="spacingAndGlyphs">on 6 virtual machines.</text>
<text x="281" y="220.7" class="cap" textLength="266.8" lengthAdjust="spacingAndGlyphs"><tspan class="cb">(b)</tspan> Performance of the 10 k × 10 k matrix multiplication</text>
<text x="281" y="233" class="cap" textLength="120" lengthAdjust="spacingAndGlyphs">ran on 6 virtual machines.</text>
<text x="3.8" y="466.1" class="cap" textLength="267.2" lengthAdjust="spacingAndGlyphs"><tspan class="cb">(c)</tspan> Performance of the 11 k × 11 k matrix multiplication</text>
<text x="3.8" y="478.4" class="cap" textLength="121.1" lengthAdjust="spacingAndGlyphs">ran on 6 virtual machines.</text>
<text x="281" y="466.1" class="cap" textLength="266.8" lengthAdjust="spacingAndGlyphs"><tspan class="cb">(d)</tspan> Performance of the 12 k × 12 k matrix multiplication</text>
<text x="281" y="478.4" class="cap" textLength="120" lengthAdjust="spacingAndGlyphs">ran on 6 virtual machines.</text>
</svg>
</body></html>
